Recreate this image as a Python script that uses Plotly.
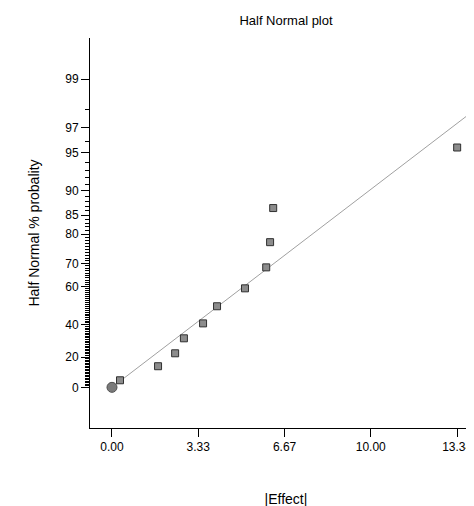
from statistics import NormalDist
import plotly.graph_objects as go

# |Effect| values and half-normal probabilities (%)
effects = [0.31, 1.78, 2.44, 2.78, 3.52, 4.06, 5.14, 5.96, 6.11, 6.23, 13.34]
probs = [4.7, 14.0, 22.4, 31.8, 40.7, 50.2, 59.2, 68.4, 77.5, 86.6, 95.5]
origin_effect = [0.0]
origin_prob = [0.0]
line_x = [0.0, 14.3]
line_prob = [0.0, 98.2]

tick_probs = [0, 20, 40, 60, 70, 80, 85, 90, 95, 97, 99]
minor_probs = list(range(1, 99))
x_ticks = [0.00, 3.33, 6.67, 10.00, 13.34]

nd = NormalDist()


def hz(p):
    """Half-normal quantile for a percentage."""
    return nd.inv_cdf((1 + p / 100.0) / 2)


fig = go.Figure()
fig.add_trace(go.Scatter(
    x=line_x, y=[hz(p) for p in line_prob], mode="lines",
    line=dict(color="#a0a0a0", width=1), hoverinfo="skip",
))
fig.add_trace(go.Scatter(
    x=effects, y=[hz(p) for p in probs], mode="markers",
    marker=dict(symbol="square", size=7, color="#8c8c8c",
                line=dict(color="#303030", width=1)),
))
fig.add_trace(go.Scatter(
    x=origin_effect, y=[hz(p) for p in origin_prob], mode="markers",
    marker=dict(symbol="circle", size=10, color="#7a7a7a",
                line=dict(color="#505050", width=1)),
))

fig.update_layout(
    width=474, height=506,
    margin=dict(l=82, r=0, t=30, b=86, autoexpand=False),
    plot_bgcolor="white", paper_bgcolor="white",
    showlegend=False,
    font=dict(family="Liberation Sans, Arial", size=12, color="black"),
    title=dict(text="Half Normal plot", x=0.5, xref="paper", y=0.985,
               font=dict(size=13)),
    xaxis=dict(
        range=[-0.85, 14.3], tickvals=x_ticks,
        ticktext=[f"{v:.2f}" for v in x_ticks], automargin=False,
        showgrid=False, zeroline=False, showline=True, linecolor="black",
        ticks="outside", ticklen=8, tickcolor="black",
        title=dict(text="|Effect|", standoff=40, font=dict(size=14)),
    ),
    yaxis=dict(
        range=[-0.34, 2.92], tickvals=[hz(p) for p in tick_probs],
        ticktext=[str(p) for p in tick_probs], automargin=False,
        showgrid=False, zeroline=False, showline=True, linecolor="black",
        ticks="outside", ticklen=8, tickcolor="black",
        minor=dict(tickvals=[hz(p) for p in minor_probs], ticks="outside",
                   ticklen=4, tickcolor="black", showgrid=False),
        title=dict(text="Half Normal % probality", standoff=22, font=dict(size=14)),
    ),
)

fig.write_html("out.html")
